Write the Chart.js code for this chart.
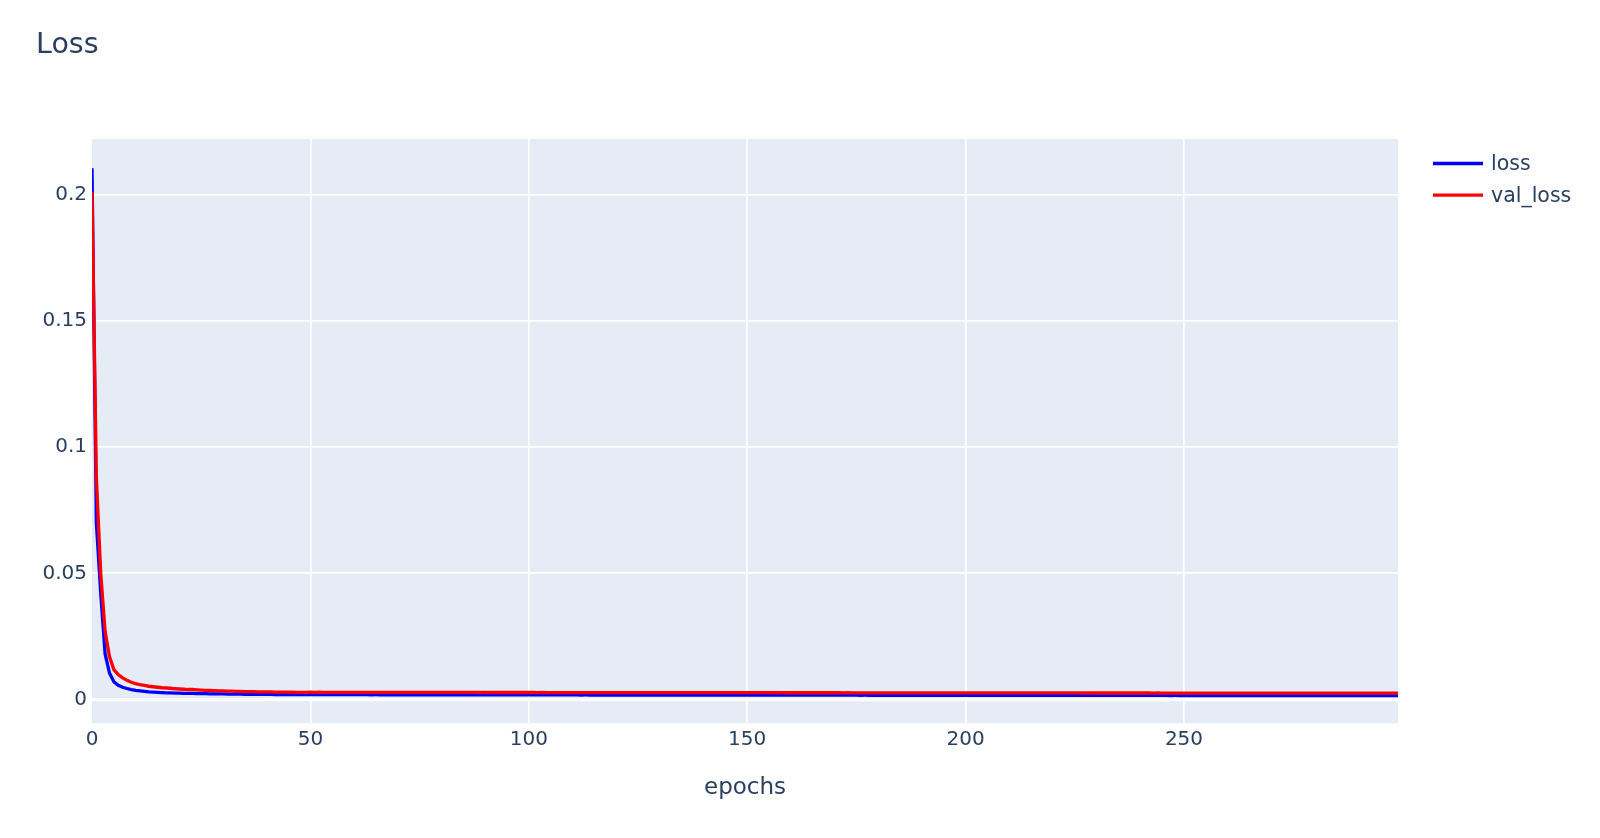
<!DOCTYPE html>
<html>
<head>
<meta charset="utf-8">
<title>Loss</title>
<script src="https://cdn.jsdelivr.net/npm/chart.js@4.4.1/dist/chart.umd.min.js"></script>
<style>
  html, body { margin: 0; padding: 0; background: #fff; }
  #wrap { width: 1600px; height: 838px; }
</style>
</head>
<body>
<div id="wrap"><canvas id="lossChart" width="1600" height="838"></canvas></div>
<script>
// training loss per epoch
var loss = [
  0.2107, 0.0700, 0.0420, 0.0180, 0.0105, 0.0070, 0.0056, 0.0048, 0.0043, 0.0039,
  0.0036, 0.0034, 0.0032, 0.0030, 0.0029, 0.0028, 0.0027, 0.0026, 0.0026, 0.0025,
  0.0025, 0.0024, 0.0024, 0.0024, 0.0023, 0.0023, 0.0023, 0.0022, 0.0022, 0.0022,
  0.0022, 0.0021, 0.0021, 0.0021, 0.0021, 0.0020, 0.0020, 0.0020, 0.0020, 0.0020,
  0.0020, 0.0020, 0.0019, 0.0019, 0.0019, 0.0019, 0.0019, 0.0019, 0.0019, 0.0019,
  0.00188, 0.00187, 0.00188, 0.00186, 0.00187, 0.00186, 0.00185, 0.00186, 0.00185, 0.00185,
  0.00184, 0.00185, 0.00184, 0.00184, 0.00183, 0.00184, 0.00183, 0.00183, 0.00182, 0.00183,
  0.00182, 0.00182, 0.00181, 0.00182, 0.00181, 0.00181, 0.00180, 0.00181, 0.00180, 0.00180,
  0.00180, 0.00179, 0.00180, 0.00179, 0.00179, 0.00178, 0.00179, 0.00178, 0.00178, 0.00178,
  0.00177, 0.00178, 0.00177, 0.00177, 0.00177, 0.00176, 0.00177, 0.00176, 0.00176, 0.00176,
  0.00176, 0.00175, 0.00176, 0.00175, 0.00175, 0.00175, 0.00174, 0.00175, 0.00174, 0.00174,
  0.00174, 0.00174, 0.00173, 0.00174, 0.00173, 0.00173, 0.00173, 0.00172, 0.00173, 0.00172,
  0.00172, 0.00172, 0.00172, 0.00171, 0.00172, 0.00171, 0.00171, 0.00171, 0.00171, 0.00170,
  0.00171, 0.00170, 0.00170, 0.00170, 0.00170, 0.00169, 0.00170, 0.00169, 0.00169, 0.00169,
  0.00169, 0.00169, 0.00168, 0.00169, 0.00168, 0.00168, 0.00168, 0.00168, 0.00167, 0.00168,
  0.00167, 0.00167, 0.00167, 0.00167, 0.00167, 0.00166, 0.00167, 0.00166, 0.00166, 0.00166,
  0.00166, 0.00166, 0.00165, 0.00166, 0.00165, 0.00165, 0.00165, 0.00165, 0.00165, 0.00164,
  0.00165, 0.00164, 0.00164, 0.00164, 0.00164, 0.00164, 0.00163, 0.00164, 0.00163, 0.00163,
  0.00163, 0.00163, 0.00163, 0.00162, 0.00163, 0.00162, 0.00162, 0.00162, 0.00162, 0.00162,
  0.00161, 0.00162, 0.00161, 0.00161, 0.00161, 0.00161, 0.00161, 0.00160, 0.00161, 0.00160,
  0.00160, 0.00160, 0.00160, 0.00160, 0.00159, 0.00160, 0.00159, 0.00159, 0.00159, 0.00159,
  0.00159, 0.00158, 0.00159, 0.00158, 0.00158, 0.00158, 0.00158, 0.00158, 0.00157, 0.00158,
  0.00157, 0.00157, 0.00157, 0.00157, 0.00157, 0.00156, 0.00157, 0.00156, 0.00156, 0.00156,
  0.00156, 0.00156, 0.00156, 0.00155, 0.00156, 0.00155, 0.00155, 0.00155, 0.00155, 0.00155,
  0.00154, 0.00155, 0.00154, 0.00154, 0.00154, 0.00154, 0.00154, 0.00153, 0.00154, 0.00153,
  0.00153, 0.00153, 0.00153, 0.00153, 0.00152, 0.00153, 0.00152, 0.00152, 0.00152, 0.00152,
  0.00152, 0.00151, 0.00152, 0.00151, 0.00151, 0.00151, 0.00151, 0.00151, 0.00150, 0.00151,
  0.00150, 0.00150, 0.00150, 0.00150, 0.00150, 0.00149, 0.00150, 0.00149, 0.00149, 0.00149,
  0.00149, 0.00149, 0.00149, 0.00148, 0.00149, 0.00148, 0.00148, 0.00148, 0.00148, 0.00148,
  0.00148, 0.00147, 0.00148, 0.00147, 0.00147, 0.00147, 0.00147, 0.00147, 0.00146, 0.00147
];

// validation loss per epoch
var valLoss = [
  0.2014, 0.0880, 0.0500, 0.0270, 0.0170, 0.0118, 0.0098, 0.0085, 0.0076, 0.0068,
  0.0062, 0.0058, 0.0055, 0.0052, 0.0050, 0.0048, 0.0046, 0.0045, 0.0044, 0.0042,
  0.0041, 0.0040, 0.0039, 0.0039, 0.0038, 0.0037, 0.0036, 0.0036, 0.0035, 0.0034,
  0.0034, 0.0033, 0.0033, 0.0032, 0.0032, 0.0031, 0.0031, 0.0031, 0.0030, 0.0030,
  0.0030, 0.0030, 0.0029, 0.0029, 0.0029, 0.0029, 0.0029, 0.0028, 0.0028, 0.0028,
  0.00281, 0.00280, 0.00281, 0.00280, 0.00279, 0.00280, 0.00279, 0.00279, 0.00278, 0.00279,
  0.00278, 0.00278, 0.00277, 0.00278, 0.00277, 0.00277, 0.00277, 0.00276, 0.00277, 0.00276,
  0.00276, 0.00276, 0.00275, 0.00276, 0.00275, 0.00275, 0.00275, 0.00274, 0.00275, 0.00274,
  0.00274, 0.00274, 0.00274, 0.00273, 0.00274, 0.00273, 0.00273, 0.00273, 0.00273, 0.00272,
  0.00273, 0.00272, 0.00272, 0.00272, 0.00272, 0.00271, 0.00272, 0.00271, 0.00271, 0.00271,
  0.00271, 0.00271, 0.00270, 0.00271, 0.00270, 0.00270, 0.00270, 0.00270, 0.00269, 0.00270,
  0.00269, 0.00269, 0.00269, 0.00269, 0.00268, 0.00269, 0.00268, 0.00268, 0.00268, 0.00268,
  0.00268, 0.00267, 0.00268, 0.00267, 0.00267, 0.00267, 0.00267, 0.00267, 0.00266, 0.00267,
  0.00266, 0.00266, 0.00266, 0.00266, 0.00266, 0.00265, 0.00266, 0.00265, 0.00265, 0.00265,
  0.00265, 0.00265, 0.00265, 0.00264, 0.00265, 0.00264, 0.00264, 0.00264, 0.00264, 0.00264,
  0.00263, 0.00264, 0.00263, 0.00263, 0.00263, 0.00263, 0.00263, 0.00262, 0.00263, 0.00262,
  0.00262, 0.00262, 0.00262, 0.00262, 0.00261, 0.00262, 0.00261, 0.00261, 0.00261, 0.00261,
  0.00261, 0.00261, 0.00260, 0.00261, 0.00260, 0.00260, 0.00260, 0.00260, 0.00260, 0.00259,
  0.00260, 0.00259, 0.00259, 0.00259, 0.00259, 0.00259, 0.00259, 0.00258, 0.00259, 0.00258,
  0.00258, 0.00258, 0.00258, 0.00258, 0.00258, 0.00257, 0.00258, 0.00257, 0.00257, 0.00257,
  0.00257, 0.00257, 0.00257, 0.00256, 0.00257, 0.00256, 0.00256, 0.00256, 0.00256, 0.00256,
  0.00256, 0.00255, 0.00256, 0.00255, 0.00255, 0.00255, 0.00255, 0.00255, 0.00255, 0.00254,
  0.00255, 0.00254, 0.00254, 0.00254, 0.00254, 0.00254, 0.00254, 0.00253, 0.00254, 0.00253,
  0.00253, 0.00253, 0.00253, 0.00253, 0.00253, 0.00252, 0.00253, 0.00252, 0.00252, 0.00252,
  0.00252, 0.00252, 0.00252, 0.00251, 0.00252, 0.00251, 0.00251, 0.00251, 0.00251, 0.00251,
  0.00251, 0.00250, 0.00251, 0.00250, 0.00250, 0.00250, 0.00250, 0.00250, 0.00250, 0.00249,
  0.00250, 0.00249, 0.00249, 0.00249, 0.00249, 0.00249, 0.00249, 0.00248, 0.00249, 0.00248,
  0.00248, 0.00248, 0.00248, 0.00248, 0.00248, 0.00247, 0.00248, 0.00247, 0.00247, 0.00247,
  0.00247, 0.00247, 0.00247, 0.00246, 0.00247, 0.00246, 0.00246, 0.00246, 0.00246, 0.00246,
  0.00246, 0.00245, 0.00246, 0.00245, 0.00245, 0.00245, 0.00245, 0.00245, 0.00244, 0.00245
];

var seriesNames = ['loss', 'val_loss'];
var seriesColors = ['#0000ff', '#ff0000'];
var xTicks = [0, 50, 100, 150, 200, 250];
var yTicks = [0, 0.05, 0.1, 0.15, 0.2];
var yTickLabels = ['0', '0.05', '0.1', '0.15', '0.2'];
var xTitle = 'epochs';
var chartTitle = 'Loss';

// one epoch per value, 0..n-1
var epochs = loss.map(function (v, i) { return i; });

var textColor = '#2a3f5f';
Chart.defaults.font.family = '"DejaVu Sans", Verdana, sans-serif';
Chart.defaults.color = textColor;

// plotly-like grey plot background
var plotBg = {
  id: 'plotBg',
  beforeDraw: function (chart) {
    var a = chart.chartArea;
    chart.ctx.save();
    chart.ctx.fillStyle = '#e5ecf6';
    chart.ctx.fillRect(a.left, a.top, a.right - a.left, a.bottom - a.top);
    chart.ctx.restore();
  }
};

// legend with short line samples to the right of the plot
var lineLegend = {
  id: 'lineLegend',
  afterDraw: function (chart) {
    var ctx = chart.ctx;
    var a = chart.chartArea;
    var x0 = a.right + 35;
    ctx.save();
    ctx.font = '20.5px "DejaVu Sans", Verdana, sans-serif';
    ctx.textBaseline = 'middle';
    ctx.textAlign = 'left';
    chart.data.datasets.forEach(function (ds, i) {
      var y = a.top + 24.5 + i * 31.7;
      ctx.strokeStyle = ds.borderColor;
      ctx.lineWidth = 3.3;
      ctx.beginPath();
      ctx.moveTo(x0, y);
      ctx.lineTo(x0 + 50, y);
      ctx.stroke();
      ctx.fillStyle = textColor;
      ctx.fillText(ds.label, x0 + 58, y + 1);
    });
    ctx.restore();
  }
};

function fixedTicks(values) {
  return function (scale) {
    scale.ticks = values.map(function (v) { return { value: v }; });
  };
}

var ctx = document.getElementById('lossChart').getContext('2d');
var lossChart = new Chart(ctx, {
  type: 'line',
  data: {
    labels: epochs,
    datasets: [{
      label: seriesNames[0],
      data: loss,
      borderColor: seriesColors[0],
      backgroundColor: seriesColors[0],
      borderWidth: 3.3,
      pointRadius: 0,
      tension: 0,
      order: 1
    }, {
      label: seriesNames[1],
      data: valLoss,
      borderColor: seriesColors[1],
      backgroundColor: seriesColors[1],
      borderWidth: 3.3,
      pointRadius: 0,
      tension: 0,
      order: 0
    }]
  },
  options: {
    responsive: false,
    animation: false,
    layout: { padding: { left: 36, right: 202, top: 0, bottom: 0 } },
    plugins: {
      legend: { display: false },
      tooltip: { enabled: false },
      title: {
        display: true,
        text: chartTitle,
        align: 'start',
        color: textColor,
        font: { size: 28.5, weight: 'normal' },
        padding: { top: 28.5, bottom: 76.3 }
      }
    },
    scales: {
      x: {
        type: 'linear',
        min: 0,
        max: 299,
        border: { display: false },
        grid: {
          color: '#ffffff',
          lineWidth: function (c) { return c.tick && c.tick.value === 0 ? 0 : 1.7; },
          drawTicks: false
        },
        afterBuildTicks: fixedTicks(xTicks),
        ticks: {
          autoSkip: false,
          maxRotation: 0,
          padding: 4,
          color: textColor,
          font: { size: 20 }
        },
        title: {
          display: true,
          text: xTitle,
          color: textColor,
          font: { size: 23 },
          padding: { top: 0, bottom: 36.4 }
        },
        afterFit: function (s) { s.height = 114.7; }
      },
      y: {
        type: 'linear',
        min: -0.0095,
        max: 0.2223,
        border: { display: false },
        grid: {
          color: '#ffffff',
          lineWidth: function (c) { return c.tick && c.tick.value === 0 ? 3.3 : 1.7; },
          drawTicks: false
        },
        afterBuildTicks: fixedTicks(yTicks),
        ticks: {
          padding: 5,
          color: textColor,
          font: { size: 20 },
          callback: function (value, index) { return yTickLabels[index]; }
        },
        afterFit: function (s) { s.width = 56; }
      }
    }
  },
  plugins: [plotBg, lineLegend]
});
</script>
</body>
</html>
